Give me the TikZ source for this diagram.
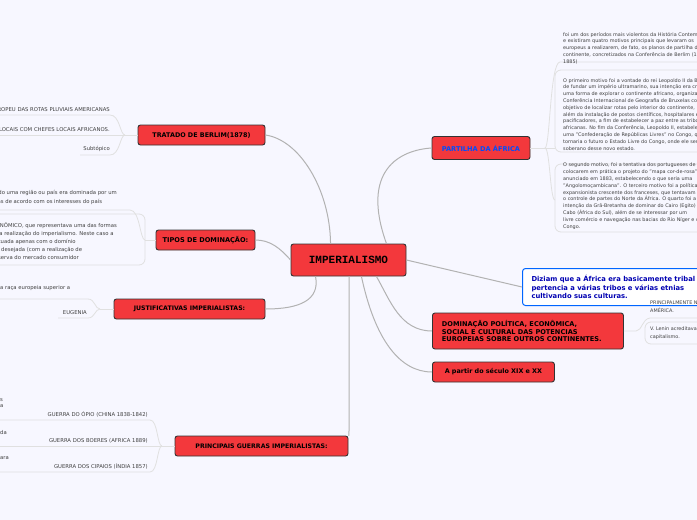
\documentclass[tikz,border=0pt]{standalone}
\usepackage{fontspec}
\setmainfont{DejaVu Sans}
\newfontfamily\monof{Liberation Mono}
\definecolor{mred}{RGB}{243,56,60}
\begin{document}
\begin{tikzpicture}[x=1pt,y=-1pt,
 main/.style={draw=black!80,line width=0.9pt,fill=mred,rounded corners=2.5pt,font=\fontsize{6.6}{7.6}\selectfont\bfseries,inner sep=0pt},
 leaf/.style={font=\fontsize{5.3}{8.2}\selectfont,text=black!75,inner sep=0pt,align=left},
 con/.style={draw=black!30,line width=1pt},
 lcon/.style={draw=black!12,line width=0.8pt},
 lbox/.style={draw=black!12,line width=0.8pt,rounded corners=6pt}]
\fill[blue!3] (0,0) rectangle (697,520);
\useasboundingbox (0,0) rectangle (697,520);
\begin{scope}
\clip (0,0) rectangle (697,520);
% central
\node[main,minimum width=115pt,minimum height=32pt,font=\monof\fontsize{11}{12}\selectfont\bfseries] (imp) at (348.5,260) {IMPERIALISMO};
\node[main,minimum width=98pt,minimum height=23pt,text=blue!70!cyan] (part) at (481,148) {PARTILHA DA ÁFRICA};
\node[draw=blue!60!cyan,line width=1pt,fill=white,rounded corners=3pt,minimum width=200pt,minimum height=37pt,anchor=west,text=blue!70!black,font=\fontsize{6.8}{8.2}\selectfont\bfseries,align=left,inner sep=0pt] (diz) at (522,287) {\hspace*{8pt}\parbox{190pt}{Diziam que a África era basicamente tribal\\pertencia a várias tribos e várias etnias\\cultivando suas culturas.}};
\node[main,minimum width=191pt,minimum height=36pt,align=left,anchor=west] (dom) at (432,331) {\hspace*{8pt}\parbox{180pt}{DOMINAÇÃO POLÍTICA, ECONÔMICA,\\SOCIAL E CULTURAL DAS POTENCIAS\\EUROPEIAS SOBRE OUTROS CONTINENTES.}};
\node[main,minimum width=122pt,minimum height=20pt,anchor=west,font=\fontsize{6.4}{7.4}\selectfont\bfseries] (apar) at (432,372) {\hspace*{8pt}A partir do século XIX e XX\hspace*{8pt}};
\node[main,minimum width=127pt,minimum height=20pt,font=\fontsize{6.4}{7.4}\selectfont\bfseries] (trat) at (201.5,135) {TRATADO DE BERLIM(1878)};
\node[main,minimum width=99pt,minimum height=20pt] (tip) at (205.5,240) {TIPOS DE DOMINAÇÃO:};
\node[main,minimum width=151pt,minimum height=20pt,font=\fontsize{6.2}{7.2}\selectfont\bfseries] (jus) at (189.5,309) {JUSTIFICATIVAS IMPERIALISTAS:};
\node[main,minimum width=173pt,minimum height=20pt,font=\fontsize{6.2}{7.2}\selectfont\bfseries] (gue) at (261.5,446) {PRINCIPAIS GUERRAS IMPERIALISTAS:};
% central connectors
\draw[con] (imp.north east)+(-20,0) .. controls (360,170) and (400,150) .. (part.west);
\draw[con] (imp.east) -- (diz.west);
\draw[con] (imp.south east)+(-30,0) .. controls (390,300) and (400,331) .. (dom.west);
\draw[con] (imp.south east)+(-45,0) .. controls (375,340) and (400,372) .. (apar.west);
\draw[con] (imp.north west)+(40,0) .. controls (330,190) and (300,140) .. (trat.east);
\draw[con] (imp.west) .. controls (280,248) and (270,240) .. (tip.east);
\draw[con] (imp.south west)+(25,0) .. controls (320,300) and (300,309) .. (jus.east);
\draw[con] (349,276) -- (349,430) .. controls (349,436) .. (gue.north east);
% Partilha leaves
\draw[lcon] (part.east) -- (545,148);
\draw[lcon] (545,148) .. controls (550,148) and (550,62) .. (560,62) -- (697,62);
\draw[lbox] (555,70) rectangle (720,152);
\draw[lbox] (555,164) rectangle (720,232);
\draw[lcon] (545,148) -- (555,148);
\draw[lcon] (545,148) .. controls (550,148) and (550,200) .. (555,200);
\node[leaf,anchor=north west,font=\fontsize{4.9}{6.8}\selectfont] (p1) at (563,32) {foi um dos períodos mais violentos da História Contemporânea\\e existiram quatro motivos principais que levaram os\\europeus a realizarem, de fato, os planos de partilha do\\continente, concretizados na Conferência de Berlim (1884-\\1885)};
\node[leaf,anchor=north west,font=\fontsize{4.9}{6.8}\selectfont] (p2) at (563,78) {O primeiro motivo foi a vontade do rei Leopoldo II da Bélgica\\de fundar um império ultramarino, sua intenção era criar\\uma forma de explorar o continente africano, organizando a\\Conferência Internacional de Geografia de Bruxelas com o\\objetivo de localizar rotas pelo interior do continente,\\além da instalação de postos científicos, hospitalares e\\pacificadores, a fim de estabelecer a paz entre as tribos\\africanas. No fim da Conferência, Leopoldo II, estabeleceu\\uma "Confederação de Repúblicas Livres" no Congo, que\\tornaria o futuro o Estado Livre do Congo, onde ele seria\\soberano desse novo estado.};
\node[leaf,anchor=north west,font=\fontsize{4.9}{6.8}\selectfont] (p3) at (563,163) {O segundo motivo, foi a tentativa dos portugueses de\\colocarem em prática o projeto do "mapa cor-de-rosa",\\anunciado em 1883, estabelecendo o que seria uma\\"Angolomoçambicana". O terceiro motivo foi a política\\expansionista crescente dos franceses, que tentavam\\o controle de partes do Norte da África. O quarto foi a\\intenção da Grã-Bretanha de dominar do Cairo (Egito) ao\\Cabo (África do Sul), além de se interessar por um\\livre comércio e navegação nas bacias do Rio Níger e do\\Congo.};
% Dominacao leaves
\draw[lcon] (dom.east) -- (636,331) .. controls (642,331) and (642,319) .. (650,318) -- (697,318);
\draw[lbox] (645,322) rectangle (720,344);
\node[leaf,anchor=north west,font=\fontsize{4.9}{7.8}\selectfont] (d1) at (650,300) {PRINCIPALMENTE NA ÁSIA E\\AMÉRICA.};
\node[leaf,anchor=north west,font=\fontsize{4.9}{7.8}\selectfont] (d2) at (650,327) {V. Lenin acreditava que o\\capitalismo.};
% Tratado leaves
\draw[lcon] (trat.west) -- (125,135);
\draw[lcon] (125,135) .. controls (120,135) and (120,115) .. (110,115) -- (0,115);
\draw[lcon] (125,135) -- (0,135);
\draw[lcon] (125,135) .. controls (120,135) and (120,155) .. (110,155) -- (80,155);
\node[leaf,anchor=south east] (t1) at (110,112) {CONTROLE EUROPEU DAS ROTAS PLUVIAIS AMERICANAS};
\node[leaf,anchor=south east] (t2) at (110,132) {ACORDOS COM CHEFES LOCAIS COM CHEFES LOCAIS AFRICANOS.};
\node[leaf,anchor=south east] (t3) at (110,152) {Subtópico};
% Tipos leaves
\draw[lcon] (tip.west) -- (145,240);
\draw[lcon] (145,240) .. controls (140,240) and (140,210) .. (130,210) -- (0,210);
\draw[lbox] (-30,214) rectangle (145,265);
\node[leaf,anchor=north east,font=\fontsize{5.3}{9}\selectfont] (y1) at (117,190) {Colonialismo: Quando uma região ou país era dominada por um\\país estrangeiro, mas de acordo com os interesses do país};
\node[leaf,anchor=north east,font=\fontsize{5.3}{8}\selectfont] (y2) at (117,222) {IMPERIALISMO ECONÔMICO, que representava uma das formas\\mais comuns para a realização do imperialismo. Neste caso a\\dominação era efetuada apenas com o domínio\\econômico da área desejada (com a realização de\\investimentos e reserva do mercado consumidor};
% Justificativas leaves
\draw[lcon] (jus.west) -- (100,309);
\draw[lcon] (100,309) .. controls (95,309) and (95,299) .. (88,299) -- (0,299);
\draw[lcon] (100,309) .. controls (95,309) and (95,318) .. (88,318) -- (58,318);
\node[leaf,anchor=south west] (j1) at (0,291) {a raça europeia superior a};
\node[leaf,anchor=south east] (j2) at (87,315) {EUGENIA};
% Guerras leaves
\draw[lcon] (gue.west) -- (162,446);
\draw[lcon] (162,446) .. controls (157,446) and (158,420) .. (150,420) -- (0,420);
\draw[lcon] (162,446) -- (0,446);
\draw[lcon] (162,446) .. controls (157,446) and (158,472) .. (150,472) -- (0,472);
\node[leaf,anchor=south east] (g1) at (148,417) {GUERRA DO ÓPIO (CHINA 1838-1842)};
\node[leaf,anchor=south east] (g2) at (148,443) {GUERRA DOS BOERES (AFRICA 1889)};
\node[leaf,anchor=south east] (g3) at (148,469) {GUERRA DOS CIPAIOS (ÍNDIA 1857)};
\node[leaf,anchor=north west,font=\fontsize{5.3}{6}\selectfont] (gf1) at (0,398) {s\\a};
\node[leaf,anchor=north west] (gf2) at (0,430) {da};
\node[leaf,anchor=north west] (gf3) at (0,456) {ara};
\end{scope}
\end{tikzpicture}
\end{document}
